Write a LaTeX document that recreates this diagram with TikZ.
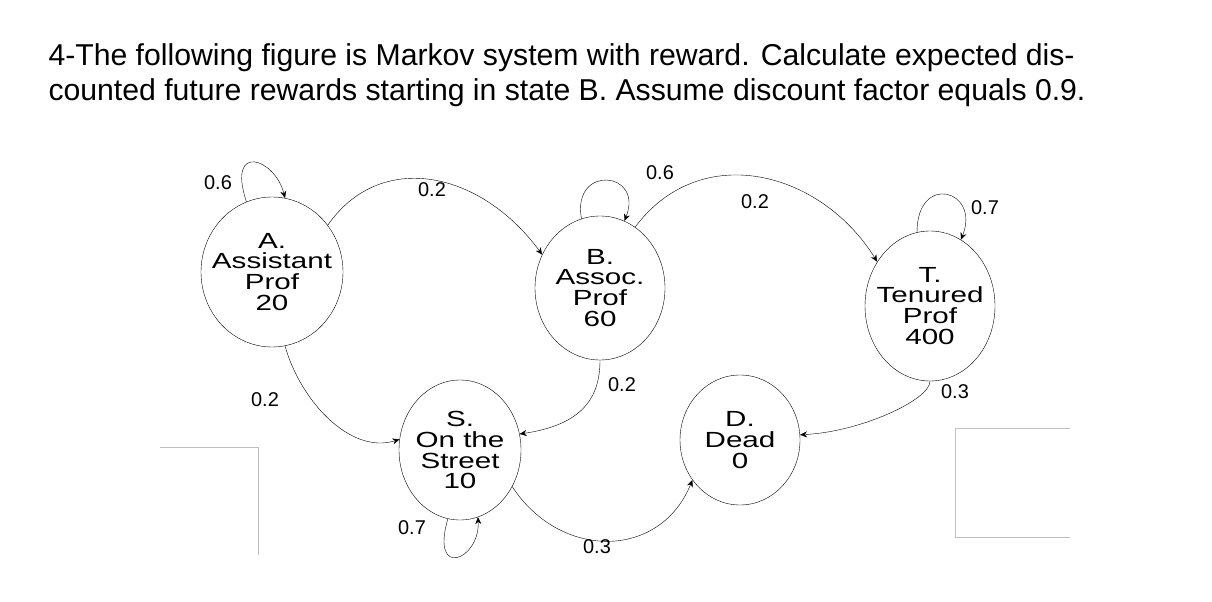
\documentclass[tikz,border=0pt]{standalone}
\usepackage{fontspec}
\setmainfont{Liberation Sans}
\newfontfamily\widefont[FakeStretch=1.35]{Liberation Sans}
\usetikzlibrary{shapes.geometric,arrows.meta}
\begin{document}
\begin{tikzpicture}[x=1bp,y=-1bp,
  st/.style={ellipse,draw,thin,inner sep=-14bp,align=center,font=\widefont\fontsize{22}{21}\selectfont},
  ed/.style={draw,thin,-{Stealth[length=7bp,width=6bp]}},
  lb/.style={font=\fontsize{20}{20}\selectfont},
  fr/.style={draw,black!25,thin}]
\useasboundingbox (0,0) rectangle (1212,602);
\node[anchor=west,align=left,font=\fontsize{30.3}{35}\selectfont] (title) at (45,75) {4-The following figure is Markov system with reward. Calculate expected dis-\\counted future rewards starting in state B. Assume discount factor equals 0.9.};
\node[st,minimum width=142bp,minimum height=150bp] (A) at (272,272) {A.\\Assistant\\Prof\\20};
\node[st,minimum width=130bp,minimum height=144bp] (B) at (600,288) {B.\\Assoc.\\Prof\\60};
\node[st,minimum width=130bp,minimum height=150bp] (T) at (930,306) {T.\\Tenured\\Prof\\400};
\node[st,minimum width=122bp,minimum height=140bp] (S) at (460,450) {S.\\On the\\Street\\10};
\node[st,minimum width=120bp,minimum height=130bp] (D) at (740,440) {D.\\Dead\\0};
\draw[ed] (A.110) .. controls +(-20,-60) and +(-10,-40) .. (A.80);
\draw[ed] (A.40) .. controls (380,150) and (480,170) .. (B.150);
\draw[ed] (B.105) .. controls +(-10,-55) and +(20,-50) .. (B.70);
\draw[ed] (B.60) .. controls (700,140) and (820,170) .. (T.140);
\draw[ed] (T.100) .. controls +(0,-60) and +(20,-50) .. (T.65);
\draw[ed] (A.-80) .. controls (300,400) and (350,455) .. (S.170);
\draw[ed] (B.-90) .. controls (600,400) and (580,425) .. (S.15);
\draw[ed] (T.-90) .. controls (930,400) and (860,432) .. (D.5);
\draw[ed] (S.-100) .. controls (430,580) and (480,560) .. (S.-75);
\draw[ed] (S.-35) .. controls (560,560) and (660,560) .. (D.-140);
\node[lb] (l1) at (218,183) {0.6};
\node[lb] (l2) at (432,190) {0.2};
\node[lb] (l3) at (660,173) {0.6};
\node[lb] (l4) at (755,202) {0.2};
\node[lb] (l5) at (985,208) {0.7};
\node[lb] (l6) at (265,400) {0.2};
\node[lb] (l7) at (622,385) {0.2};
\node[lb] (l8) at (955,392) {0.3};
\node[lb] (l9) at (412,528) {0.7};
\node[lb] (l10) at (597,547) {0.3};
\draw[fr] (160,447) -- (258,447) -- (258,555);
\draw[fr] (1070,428) -- (955,428) -- (955,537) -- (1070,537);
\end{tikzpicture}
\end{document}
